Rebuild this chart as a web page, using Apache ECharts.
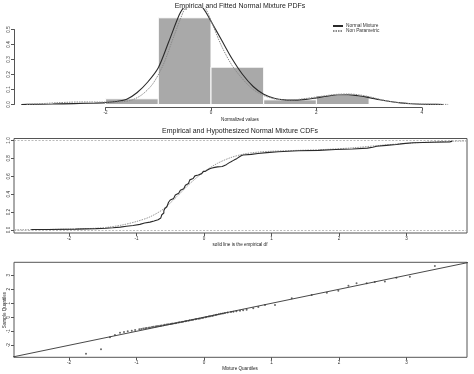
<!DOCTYPE html>
<html><head><meta charset="utf-8">
<script src="https://cdn.jsdelivr.net/npm/echarts@6/dist/echarts.min.js"></script>
<style>html,body{margin:0;padding:0;background:#fff}#c{width:474px;height:374px}</style>
</head><body><div id="c"></div>
<script>
// ---------- data ----------
const binEdges = [-3, -2, -1, 0, 1, 2, 3];
const binHeights = [0.013, 0.038, 0.578, 0.249, 0.031, 0.060];

const mixX = [-3.6,-3.4,-3.0,-2.6,-2.2,-2.0,-1.8,-1.6,-1.4,-1.2,-1.0,-0.8,-0.6,-0.5,-0.4,-0.3,-0.2,-0.1,0.0,0.2,0.4,0.6,0.8,1.0,1.2,1.4,1.6,1.8,2.0,2.2,2.4,2.6,2.8,3.0,3.2,3.4,3.6,3.8,4.0,4.2,4.4];
const mixY = [0.0005,0.001,0.003,0.006,0.010,0.013,0.020,0.035,0.080,0.150,0.245,0.420,0.600,0.655,0.686,0.690,0.665,0.617,0.555,0.430,0.305,0.200,0.120,0.068,0.042,0.031,0.029,0.034,0.044,0.055,0.063,0.064,0.058,0.046,0.032,0.020,0.011,0.005,0.002,0.001,0.0005];

const npX = [-3.5,-3.3,-3.1,-2.9,-2.7,-2.5,-2.3,-2.1,-1.9,-1.7,-1.5,-1.3,-1.1,-0.9,-0.7,-0.5,-0.4,-0.3,-0.2,-0.1,0.0,0.2,0.4,0.6,0.8,1.0,1.2,1.4,1.6,1.8,2.0,2.2,2.4,2.6,2.8,3.0,3.2,3.4,3.6,3.8,4.0,4.2,4.5];
const npY = [0.001,0.004,0.008,0.012,0.015,0.017,0.017,0.016,0.016,0.018,0.030,0.068,0.140,0.270,0.460,0.640,0.700,0.720,0.700,0.640,0.560,0.390,0.260,0.170,0.100,0.060,0.038,0.030,0.032,0.040,0.050,0.060,0.068,0.070,0.065,0.052,0.035,0.020,0.011,0.006,0.003,0.0015,0.0005];

const ecdfX = [-2.56,-2.30,-1.90,-1.60,-1.45,-1.35,-1.24,-1.15,-1.05,-0.95,-0.88,-0.80,-0.74,-0.68,-0.64,-0.625,-0.61,-0.595,-0.58,-0.565,-0.55,-0.525,-0.50,-0.475,-0.45,-0.425,-0.40,-0.375,-0.35,-0.325,-0.30,-0.275,-0.25,-0.23,-0.21,-0.185,-0.16,-0.135,-0.11,-0.085,-0.06,-0.035,-0.01,0.02,0.05,0.085,0.12,0.16,0.20,0.27,0.33,0.37,0.40,0.43,0.46,0.49,0.52,0.55,0.58,0.70,0.80,0.93,1.10,1.40,1.70,1.95,2.20,2.42,2.50,2.56,2.70,2.85,2.95,3.10,3.40,3.64,3.67];
const ecdfY = [0.005,0.010,0.015,0.020,0.025,0.032,0.042,0.050,0.063,0.078,0.088,0.100,0.115,0.135,0.148,0.170,0.190,0.215,0.240,0.260,0.280,0.310,0.335,0.352,0.370,0.390,0.410,0.428,0.445,0.462,0.480,0.500,0.520,0.540,0.560,0.575,0.590,0.605,0.615,0.622,0.630,0.642,0.655,0.670,0.685,0.693,0.700,0.705,0.710,0.730,0.750,0.762,0.775,0.788,0.800,0.815,0.830,0.838,0.845,0.855,0.865,0.875,0.885,0.890,0.900,0.905,0.915,0.925,0.935,0.945,0.955,0.965,0.975,0.980,0.985,0.990,1.000];

const hypX = [-2.8,-2.4,-2.0,-1.8,-1.6,-1.4,-1.2,-1.0,-0.8,-0.6,-0.4,-0.2,0.0,0.2,0.4,0.6,0.8,1.0,1.4,1.8,2.2,2.6,3.0,3.4,3.9];
const hypY = [0.002,0.005,0.010,0.014,0.020,0.033,0.058,0.095,0.147,0.235,0.375,0.525,0.650,0.745,0.810,0.850,0.870,0.880,0.890,0.900,0.918,0.945,0.968,0.985,0.995];

const qqTheo = [-1.748,-1.526,-1.393,-1.319,-1.244,-1.185,-1.13,-1.07,-1.02,-0.958,-0.93,-0.90,-0.87,-0.85,-0.82,-0.80,-0.77,-0.75,-0.72,-0.70,-0.68,-0.65,-0.63,-0.60,-0.58,-0.55,-0.53,-0.50,-0.48,-0.46,-0.43,-0.41,-0.38,-0.36,-0.33,-0.31,-0.28,-0.26,-0.23,-0.21,-0.18,-0.16,-0.13,-0.11,-0.08,-0.06,-0.03,-0.01,0.02,0.04,0.07,0.09,0.12,0.14,0.17,0.19,0.22,0.25,0.28,0.31,0.35,0.40,0.435,0.48,0.533,0.58,0.632,0.73,0.805,0.904,1.052,1.30,1.595,1.82,1.99,2.14,2.26,2.41,2.53,2.68,2.85,3.05,3.42];
const qqSample = [-2.60,-2.29,-1.43,-1.26,-1.10,-1.05,-1.00,-0.96,-0.91,-0.86,-0.83,-0.80,-0.78,-0.76,-0.74,-0.72,-0.70,-0.68,-0.66,-0.64,-0.62,-0.60,-0.58,-0.56,-0.54,-0.52,-0.50,-0.48,-0.46,-0.44,-0.42,-0.40,-0.37,-0.35,-0.33,-0.31,-0.28,-0.26,-0.24,-0.21,-0.19,-0.17,-0.14,-0.12,-0.10,-0.08,-0.05,-0.03,0.00,0.02,0.05,0.07,0.10,0.13,0.16,0.19,0.22,0.25,0.27,0.30,0.34,0.38,0.40,0.44,0.47,0.51,0.54,0.64,0.74,0.88,0.88,1.36,1.59,1.76,1.90,2.26,2.43,2.43,2.52,2.55,2.83,2.90,3.66];

const qqLineX = [-3, 4];
const qqLineY = [-3, 4];

const pdfXTicks = [-2, 0, 2, 4];
const pdfYTicks = [0, 0.1, 0.2, 0.3, 0.4, 0.5];
const cdfXTicks = [-2, -1, 0, 1, 2, 3];
const cdfYTicks = [0, 0.2, 0.4, 0.6, 0.8, 1.0];
const qqYTicks = [-2, -1, 0, 1, 2, 3];

// ---------- layout ----------
const FONT = 'Liberation Sans, Arial, Helvetica, sans-serif';
const AX = '#555';
const zip = (a, b) => a.map((v, i) => [v, b[i]]);

const P1 = {x0: 211, sx: 52.7, y0: 104.5, sy: 150, L: 14, R: 466, T: 8.5, B: 107.5};
const P2 = {x0: 204, sx: 67.5, y0: 230, sy: 89.5, L: 14, R: 467, T: 138.5, B: 233};
const P3 = {x0: 204, sx: 67.5, y0: 317.3, sy: 14, L: 14, R: 467, T: 262.3, B: 357.3};

function dataGrid(P, border) {
  return {
    grid: {left: P.L, top: P.T, width: P.R - P.L, height: P.B - P.T, show: border, borderColor: AX, borderWidth: 1, backgroundColor: 'transparent'},
    xr: [(P.L - P.x0) / P.sx, (P.R - P.x0) / P.sx],
    yr: [(P.y0 - P.B) / P.sy, (P.y0 - P.T) / P.sy]
  };
}
function axisGrid(P, xt, yt) {
  const x1 = P.x0 + xt[0] * P.sx, x2 = P.x0 + xt[xt.length - 1] * P.sx;
  const y1 = P.y0 - yt[yt.length - 1] * P.sy, y2 = P.y0 - yt[0] * P.sy;
  return {
    grid: {left: x1, top: y1, width: x2 - x1, height: y2 - y1, show: false},
    xoff: P.B - y2, yoff: x1 - P.L
  };
}

const d1 = dataGrid(P1, false), a1 = axisGrid(P1, pdfXTicks, pdfYTicks);
const d2 = dataGrid(P2, true), a2 = axisGrid(P2, cdfXTicks, cdfYTicks);
const d3 = dataGrid(P3, true), a3 = axisGrid(P3, cdfXTicks, qqYTicks);

const hidden = (r, gi) => ({type: 'value', gridIndex: gi, min: r[0], max: r[1], show: false, axisLine: {onZero: false}});
function visX(t, gi, off, showLine) {
  return {type: 'value', gridIndex: gi, position: 'bottom', min: t[0], max: t[t.length - 1], interval: t[1] - t[0], offset: off,
    axisLine: {show: showLine, onZero: false, lineStyle: {color: AX, width: 1}},
    axisTick: {show: true, length: 3, lineStyle: {color: AX}},
    axisLabel: {fontSize: 4.6, color: '#333', fontFamily: FONT, margin: 3, showMinLabel: true, showMaxLabel: true},
    splitLine: {show: false}};
}
function visY(t, gi, off, showLine, fmt) {
  return {type: 'value', gridIndex: gi, position: 'left', min: t[0], max: t[t.length - 1], interval: +(t[1] - t[0]).toFixed(6), offset: off,
    axisLine: {show: showLine, onZero: false, lineStyle: {color: AX, width: 1}},
    axisTick: {show: true, length: 3, lineStyle: {color: AX}},
    axisLabel: {fontSize: 4.6, color: '#333', fontFamily: FONT, margin: 3, rotate: 90, formatter: fmt, showMinLabel: true, showMaxLabel: true},
    splitLine: {show: false}};
}
const f1 = v => v.toFixed(1);
const f0 = v => String(Math.round(v));

const txt = (t, x, y, size, rot) => ({type: 'text', x: x, y: y, rotation: rot || 0, z: 100,
  style: {text: t, fontSize: size, fill: '#222', fontFamily: FONT, align: 'center', verticalAlign: 'middle'}});

const option = {
  animation: false,
  backgroundColor: '#fff',
  grid: [d1.grid, a1.grid, d2.grid, a2.grid, d3.grid, a3.grid],
  xAxis: [hidden(d1.xr, 0), visX(pdfXTicks, 1, a1.xoff, true),
          hidden(d2.xr, 2), visX(cdfXTicks, 3, a2.xoff, false),
          hidden(d3.xr, 4), visX(cdfXTicks, 5, a3.xoff, false)],
  yAxis: [hidden(d1.yr, 0), visY(pdfYTicks, 1, a1.yoff, true, f1),
          hidden(d2.yr, 2), visY(cdfYTicks, 3, a2.yoff, false, f1),
          hidden(d3.yr, 4), visY(qqYTicks, 5, a3.yoff, false, f0)],
  legend: {data: ['Normal Mixture', 'Non Parametric'], orient: 'vertical', left: 332, top: 23.5,
    itemWidth: 10, itemHeight: 3, itemGap: 0, padding: 0,
    itemStyle: {opacity: 0},
    textStyle: {fontSize: 4.8, color: '#333', fontFamily: FONT, padding: [0, 0, 0, -2]}},
  graphic: [
    txt('Empirical and Fitted Normal Mixture PDFs', 240, 6, 7),
    txt('Normalized values', 240, 119.5, 4.6),
    txt('Empirical and Hypothesized Normal Mixture CDFs', 240, 131, 7),
    txt('solid line is the empirical df', 240, 244.5, 4.6),
    txt('Mixture Quantiles', 240, 368.5, 4.6),
    txt('Sample Quantiles', 5, 310, 4.6, Math.PI / 2)
  ],
  series: [
    {type: 'custom', xAxisIndex: 0, yAxisIndex: 0, clip: true,
      data: binHeights.map((h, i) => [binEdges[i], binEdges[i + 1], h]),
      renderItem: (params, api) => {
        const p1 = api.coord([api.value(0), api.value(2)]);
        const p2 = api.coord([api.value(1), 0]);
        return {type: 'rect', shape: {x: p1[0], y: p1[1], width: p2[0] - p1[0], height: p2[1] - p1[1]},
          style: {fill: '#a9a9a9', stroke: '#fff', lineWidth: 1}};
      }},
    {name: 'Normal Mixture', type: 'line', xAxisIndex: 0, yAxisIndex: 0, data: zip(mixX, mixY),
      smooth: 0.3, symbol: 'none', clip: true, lineStyle: {color: '#2a2a2a', width: 1.1}, itemStyle: {color: '#2a2a2a'}},
    {name: 'Non Parametric', type: 'line', xAxisIndex: 0, yAxisIndex: 0, data: zip(npX, npY),
      smooth: 0.3, symbol: 'none', clip: true, lineStyle: {color: '#8a8a8a', width: 1, type: [1.5, 1]}, itemStyle: {color: '#8a8a8a'}},

    {type: 'line', xAxisIndex: 2, yAxisIndex: 2, data: zip(hypX, hypY), smooth: 0.3, symbol: 'none',
      lineStyle: {color: '#999', width: 1, type: [1.5, 1]},
      markLine: {silent: true, symbol: 'none', label: {show: false},
        lineStyle: {color: '#aaa', width: 0.8, type: [2, 1.5]}, data: [{yAxis: 0}, {yAxis: 1}]}},
    {type: 'line', xAxisIndex: 2, yAxisIndex: 2, data: zip(ecdfX, ecdfY), step: 'end', symbol: 'none',
      lineStyle: {color: '#2a2a2a', width: 1.1}},

    {type: 'line', xAxisIndex: 4, yAxisIndex: 4, data: zip(qqLineX, qqLineY), symbol: 'none', clip: true,
      lineStyle: {color: '#333', width: 0.9}},
    {type: 'scatter', xAxisIndex: 4, yAxisIndex: 4, data: zip(qqTheo, qqSample), symbol: 'circle', symbolSize: 2,
      itemStyle: {color: '#444'}}
  ]
};
echarts.init(document.getElementById('c'), null, {renderer: 'canvas'}).setOption(option);
</script></body></html>
